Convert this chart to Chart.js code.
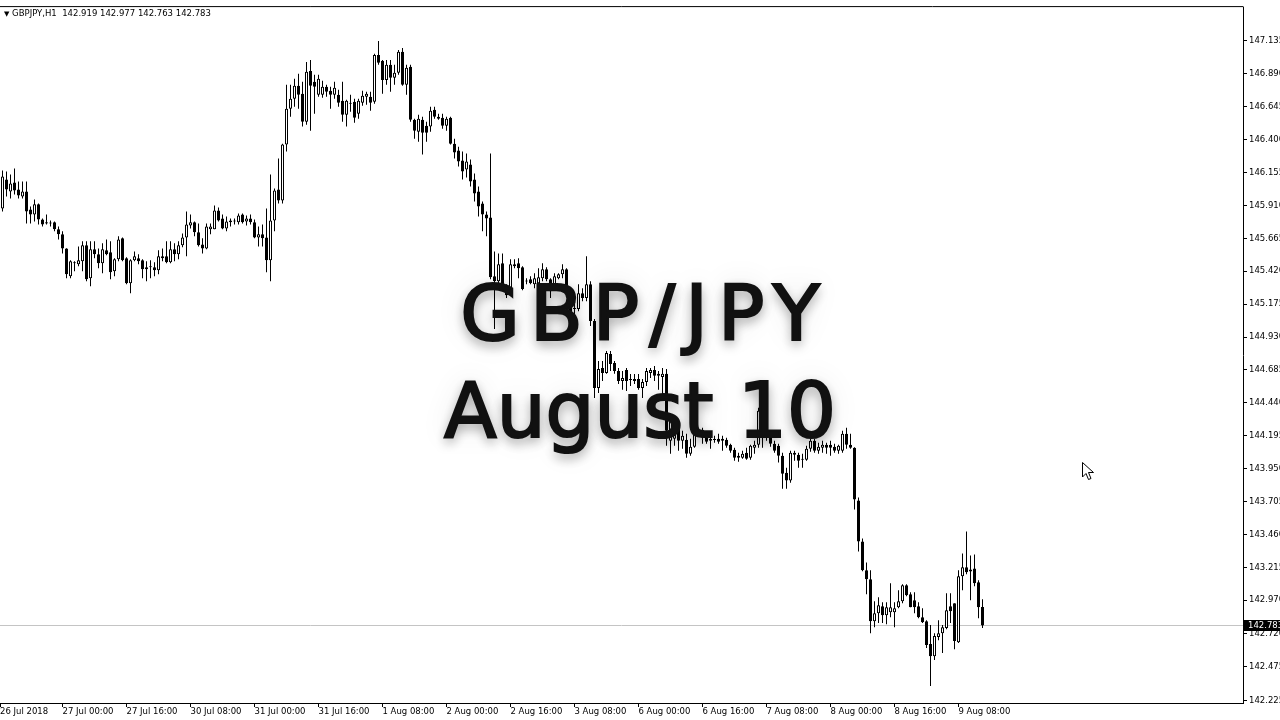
<!DOCTYPE html>
<html>
<head>
<meta charset="utf-8">
<script src="https://cdn.jsdelivr.net/npm/chart.js@4.4.1/dist/chart.umd.min.js"></script>
<style>
html,body{margin:0;padding:0;background:#fff;}
#wrap{position:relative;width:1280px;height:720px;overflow:hidden;background:#fff;}
#c{position:absolute;left:0;top:0;}
#hdr{position:absolute;left:4px;top:7px;font:8.5px "DejaVu Sans",sans-serif;color:#000;white-space:pre;line-height:12px;}
#hdr .tri{font-size:7px;}
#title{position:absolute;left:0;top:265px;width:1280px;text-align:center;font-family:"DejaVu Sans",sans-serif;font-size:77px;line-height:97px;color:#111;-webkit-text-stroke:2.2px #111;text-shadow:0 5px 12px rgba(0,0,0,.40),0 0 30px rgba(0,0,0,.12);}
#title .l1{letter-spacing:10px;margin-right:-10px;}
#cursor{position:absolute;left:1082px;top:462px;}
</style>
</head>
<body>
<div id="wrap">
<canvas id="c" width="1280" height="720"></canvas>
<div id="hdr"><span class="tri">▼</span> GBPJPY,H1  142.919 142.977 142.763 142.783</div>
<div id="title"><span class="l1">GBP/JPY</span><br>August 10</div>
<svg id="cursor" width="14" height="20" viewBox="0 0 14 20"><path d="M0.5,0.5 L0.5,15 L4,11.5 L6.5,17.5 L9,16.5 L6.5,10.5 L11.5,10.5 Z" fill="#fff" stroke="#000" stroke-width="1"/></svg>
</div>
<script>
// ---- data (H1 candles, 26 Jul 2018 09:00 -> 9 Aug 2018 14:00) ----
const opens = [
145.888,146.103,146.014,146.081,146.029,145.977,146.014,145.880,145.843,145.918,
145.806,145.784,145.776,145.784,145.732,145.695,145.590,145.383,145.479,145.472,
145.494,145.613,145.368,145.583,145.546,145.479,145.576,145.561,145.420,145.509,
145.665,145.517,145.331,145.501,145.517,145.501,145.435,145.450,145.450,145.427,
145.517,145.531,145.487,145.583,145.546,145.613,145.672,145.761,145.784,145.710,
145.620,145.590,145.732,145.732,145.873,145.813,145.739,145.784,145.791,145.784,
145.843,145.791,145.813,145.784,145.672,145.695,145.672,145.501,145.798,146.029,
145.947,146.363,146.630,146.704,146.801,146.742,146.534,146.912,146.831,146.734,
146.734,146.794,146.764,146.734,146.734,146.690,146.586,146.667,146.682,146.593,
146.675,146.719,146.719,146.682,147.031,146.987,146.845,146.957,146.860,146.898,
147.054,146.808,146.942,146.548,146.459,146.548,146.504,146.497,146.623,146.571,
146.563,146.504,146.563,146.370,146.319,146.244,146.177,146.214,146.103,146.014,
145.925,145.843,145.820,145.383,145.346,145.479,145.294,145.294,145.457,145.479,
145.450,145.346,145.361,145.323,145.331,145.368,145.435,145.361,145.309,145.368,
145.398,145.435,145.249,145.146,145.138,145.257,145.220,145.323,145.049,144.551,
144.700,144.663,144.804,144.737,144.678,144.603,144.685,144.618,144.618,144.618,
144.551,144.596,144.663,144.685,144.656,144.633,144.656,144.158,144.173,144.284,
144.158,144.165,144.061,144.113,144.210,144.239,144.195,144.173,144.165,144.173,
144.173,144.165,144.128,144.091,144.032,144.032,144.069,144.032,144.106,144.128,
144.373,144.284,144.180,144.136,144.121,144.047,143.920,143.861,144.069,144.054,
144.024,144.017,144.099,144.158,144.084,144.106,144.128,144.128,144.113,144.084,
144.084,144.210,144.128,144.106,143.713,143.408,143.193,143.126,142.814,142.874,
142.926,142.859,142.881,142.881,142.918,142.963,143.081,143.015,142.970,142.926,
142.844,142.814,142.644,142.554,142.696,142.725,142.763,142.926,142.948,142.658,
143.148,143.215,143.200,143.207,143.104,142.919];
const highs = [
146.170,146.162,146.140,146.185,146.088,146.088,146.088,145.903,145.955,145.925,
145.813,145.843,145.798,145.791,145.754,145.717,145.592,145.501,145.494,145.605,
145.643,145.643,145.643,145.643,145.590,145.628,145.657,145.643,145.517,145.680,
145.672,145.524,145.509,145.568,145.546,145.509,145.494,145.501,145.487,145.576,
145.590,145.643,145.643,145.628,145.643,145.702,145.865,145.843,145.791,145.776,
145.665,145.776,145.776,145.910,145.895,145.843,145.828,145.813,145.813,145.850,
145.850,145.836,145.843,145.806,145.754,145.769,145.888,146.140,146.036,146.259,
146.370,146.808,146.808,146.853,146.890,146.831,146.979,146.994,146.883,146.883,
146.838,146.808,146.794,146.831,146.771,146.831,146.697,146.734,146.704,146.704,
146.764,146.757,146.757,147.039,147.135,146.994,146.994,146.994,146.957,147.068,
147.083,146.957,146.957,146.556,146.586,146.571,146.534,146.645,146.645,146.593,
146.593,146.571,146.571,146.407,146.348,146.311,146.296,146.252,146.148,146.051,
145.940,145.865,146.296,145.568,145.553,145.553,145.323,145.509,145.509,145.517,
145.457,145.368,145.383,145.405,145.442,145.479,145.450,145.368,145.405,145.405,
145.472,145.442,145.272,145.220,145.323,145.294,145.531,145.346,145.064,144.752,
144.752,144.826,144.826,144.752,144.700,144.678,144.700,144.655,144.655,144.655,
144.618,144.700,144.700,144.715,144.678,144.700,144.693,144.328,144.321,144.306,
144.232,144.210,144.173,144.225,144.254,144.254,144.210,144.195,144.195,144.210,
144.195,144.180,144.136,144.106,144.069,144.084,144.106,144.128,144.158,144.403,
144.418,144.306,144.210,144.158,144.136,144.069,143.957,144.084,144.084,144.069,
144.061,144.121,144.173,144.173,144.143,144.158,144.143,144.158,144.136,144.128,
144.232,144.254,144.210,144.110,143.735,143.430,143.252,143.193,142.963,142.992,
142.955,142.955,143.096,142.955,143.044,143.089,143.089,143.030,143.030,142.955,
142.911,142.822,142.785,142.725,142.822,142.785,143.022,143.022,142.948,143.193,
143.319,143.482,143.304,143.311,143.119,142.977];
const lows = [
145.865,145.977,145.962,145.992,145.962,145.962,145.776,145.776,145.791,145.769,
145.754,145.769,145.754,145.717,145.657,145.553,145.368,145.368,145.420,145.457,
145.420,145.346,145.309,145.517,145.442,145.405,145.539,145.361,145.383,145.494,
145.494,145.323,145.257,145.494,145.472,145.368,145.346,145.368,145.383,145.398,
145.494,145.479,145.479,145.494,145.509,145.598,145.531,145.739,145.680,145.605,
145.553,145.583,145.695,145.732,145.791,145.732,145.717,145.754,145.769,145.769,
145.776,145.761,145.769,145.665,145.605,145.605,145.413,145.346,145.717,145.925,
145.925,146.311,146.571,146.645,146.630,146.497,146.511,146.467,146.593,146.719,
146.712,146.719,146.630,146.704,146.645,146.534,146.497,146.608,146.526,146.556,
146.653,146.660,146.615,146.667,146.957,146.742,146.808,146.757,146.808,146.883,
146.801,146.734,146.534,146.407,146.385,146.289,146.385,146.459,146.556,146.548,
146.482,146.467,146.363,146.259,146.200,146.103,146.118,146.051,145.940,145.828,
145.717,145.680,145.361,144.990,145.323,145.272,145.220,145.287,145.442,145.368,
145.279,145.323,145.323,145.294,145.323,145.346,145.346,145.220,145.294,145.361,
145.368,145.234,145.086,145.012,145.123,145.197,145.197,145.012,144.477,144.514,
144.603,144.656,144.678,144.656,144.581,144.537,144.529,144.566,144.581,144.537,
144.477,144.566,144.626,144.603,144.537,144.492,144.121,144.061,144.121,144.084,
144.099,144.032,144.047,144.106,144.195,144.136,144.136,144.099,144.143,144.136,
144.084,144.106,144.069,144.009,144.002,144.024,144.017,144.017,144.061,144.106,
144.106,144.158,144.113,144.069,143.995,143.801,143.801,143.846,144.009,143.957,
143.957,144.009,144.076,144.069,144.061,144.069,144.061,144.047,144.069,144.061,
144.069,144.099,144.099,143.646,143.334,143.186,143.015,142.725,142.770,142.800,
142.800,142.792,142.844,142.770,142.911,142.948,143.000,142.918,142.874,142.837,
142.800,142.614,142.332,142.525,142.673,142.577,142.755,142.800,142.606,142.651,
143.044,143.163,142.970,143.074,142.837,142.763];
const closes = [
146.125,146.029,146.073,146.022,145.984,146.014,145.865,145.843,145.918,145.806,
145.769,145.776,145.779,145.732,145.695,145.590,145.398,145.494,145.485,145.501,
145.613,145.361,145.583,145.546,145.479,145.583,145.546,145.413,145.509,145.657,
145.501,145.331,145.501,145.531,145.494,145.435,145.450,145.452,145.427,145.531,
145.531,145.487,145.583,145.546,145.613,145.672,145.769,145.784,145.710,145.613,
145.590,145.754,145.754,145.873,145.798,145.739,145.791,145.798,145.792,145.836,
145.784,145.813,145.784,145.672,145.695,145.665,145.501,145.798,146.022,145.947,
146.363,146.630,146.704,146.801,146.734,146.534,146.905,146.801,146.794,146.853,
146.794,146.757,146.734,146.786,146.675,146.586,146.690,146.670,146.563,146.690,
146.727,146.742,146.675,147.031,146.972,146.845,146.957,146.860,146.898,147.054,
146.808,146.935,146.548,146.467,146.556,146.452,146.452,146.615,146.571,146.556,
146.504,146.556,146.370,146.304,146.237,146.162,146.237,146.088,145.999,145.903,
145.843,145.813,145.376,145.346,145.472,145.294,145.242,145.472,145.472,145.442,
145.287,145.343,145.331,145.368,145.376,145.435,145.361,145.272,145.383,145.398,
145.435,145.249,145.101,145.138,145.257,145.220,145.323,145.049,144.551,144.693,
144.663,144.811,144.730,144.678,144.603,144.626,144.603,144.611,144.603,144.551,
144.596,144.678,144.685,144.641,144.641,144.656,144.232,144.306,144.291,144.158,
144.195,144.061,144.113,144.210,144.239,144.180,144.150,144.158,144.163,144.150,
144.158,144.121,144.084,144.032,144.047,144.061,144.024,144.121,144.128,144.381,
144.284,144.180,144.136,144.084,144.047,143.913,143.861,144.069,144.054,144.009,
144.017,144.099,144.158,144.084,144.113,144.128,144.106,144.106,144.084,144.121,
144.210,144.128,144.106,143.720,143.408,143.193,143.126,142.814,142.874,142.933,
142.859,142.918,142.918,142.911,142.963,143.081,143.007,142.918,142.918,142.844,
142.807,142.636,142.554,142.703,142.725,142.770,142.896,142.889,142.666,143.148,
143.215,143.178,143.185,143.096,142.918,142.783];

// time-axis tick labels and the bar index each one sits on
const xTickIdx = [-0.625, 15, 31, 47, 63, 79, 95, 111, 127, 143, 159, 175, 191, 207, 223, 239];
const xTickLabels = ['26 Jul 2018','27 Jul 00:00','27 Jul 16:00','30 Jul 08:00','31 Jul 00:00','31 Jul 16:00',
  '1 Aug 08:00','2 Aug 00:00','2 Aug 16:00','3 Aug 08:00','6 Aug 00:00','6 Aug 16:00','7 Aug 08:00',
  '8 Aug 00:00','8 Aug 16:00','9 Aug 08:00'];
// price-axis tick labels
const yTicks = [147.135,146.890,146.645,146.400,146.155,145.910,145.665,145.420,145.175,144.930,
  144.685,144.440,144.195,143.950,143.705,143.460,143.215,142.970,142.720,142.475,142.225];
const lastPrice = 142.783;

// ---- build datasets from the arrays ----
const bodies = [], wicks = [], bodyColors = [];
for (let i = 0; i < opens.length; i++) {
  const o = opens[i], c = closes[i];
  bodies.push({x: i, y: [Math.min(o, c), Math.max(o, c)]});
  wicks.push({x: i, y: [lows[i], highs[i]]});
  bodyColors.push(c >= o ? '#ffffff' : '#000000');
}

const FONT = {family: '"DejaVu Sans", sans-serif', size: 8.5};

const chromePlugin = {
  id: 'chrome',
  beforeDatasetsDraw(chart) {
    const {ctx, chartArea: a, scales: {y}} = chart;
    const py = Math.round(y.getPixelForValue(lastPrice)) + 0.5;
    ctx.save();
    ctx.strokeStyle = '#c4c4c4';
    ctx.lineWidth = 1;
    ctx.beginPath(); ctx.moveTo(a.left, py); ctx.lineTo(a.right, py); ctx.stroke();
    ctx.restore();
  },
  afterDraw(chart) {
    const {ctx, chartArea: a, scales: {y}} = chart;
    ctx.save();
    ctx.strokeStyle = '#000'; ctx.lineWidth = 1;
    ctx.beginPath(); ctx.moveTo(0, a.top - 0.5); ctx.lineTo(a.right + 0.5, a.top - 0.5); ctx.stroke();
    const py = Math.round(y.getPixelForValue(lastPrice));
    ctx.fillStyle = '#000';
    ctx.fillRect(a.right + 1, py - 5, chart.width - a.right - 1, 11);
    ctx.fillStyle = '#fff';
    ctx.font = '8.5px "DejaVu Sans", sans-serif';
    ctx.textBaseline = 'middle';
    ctx.fillText(lastPrice.toFixed(3), a.right + 5, py + 0.5);
    ctx.restore();
  }
};

new Chart(document.getElementById('c'), {
  type: 'bar',
  data: {
    datasets: [
      {label: 'body', data: bodies, backgroundColor: bodyColors, borderColor: '#000', borderWidth: 1,
       borderSkipped: false, barThickness: 3, minBarLength: 1, inflateAmount: 0, order: 0},
      {label: 'wick', data: wicks, backgroundColor: '#000', borderWidth: 0,
       barThickness: 1, minBarLength: 1, inflateAmount: 0, order: 1}
    ]
  },
  options: {
    responsive: false,
    animation: false,
    devicePixelRatio: 1,
    events: [],
    layout: {padding: {top: 5, left: 0, right: 0, bottom: 0}},
    datasets: {bar: {grouped: false}},
    plugins: {legend: {display: false}, tooltip: {enabled: false}, title: {display: false}},
    scales: {
      x: {
        type: 'linear', min: -0.625, max: 310.125, offset: false,
        grid: {drawOnChartArea: false, drawTicks: true, tickLength: 4, color: '#000', offset: false},
        border: {display: true, color: '#000', width: 1},
        ticks: {autoSkip: false, maxRotation: 0, minRotation: 0, align: 'start', padding: 0,
                color: '#000', font: FONT,
                callback: (v, idx) => xTickLabels[idx]},
        afterBuildTicks: s => { s.ticks = xTickIdx.map(v => ({value: v})); },
        afterFit: s => { s.height = 17; }
      },
      y: {
        type: 'linear', position: 'right', min: 142.205, max: 147.387,
        grid: {drawOnChartArea: false, drawTicks: true, tickLength: 4, color: '#000', offset: false},
        border: {display: true, color: '#000', width: 1},
        ticks: {autoSkip: false, padding: 2, color: '#000', font: FONT,
                callback: v => Number(v).toFixed(3)},
        afterBuildTicks: s => { s.ticks = yTicks.map(v => ({value: v})); },
        afterFit: s => { s.width = 37; }
      }
    }
  },
  plugins: [chromePlugin]
});
</script>
</body>
</html>
